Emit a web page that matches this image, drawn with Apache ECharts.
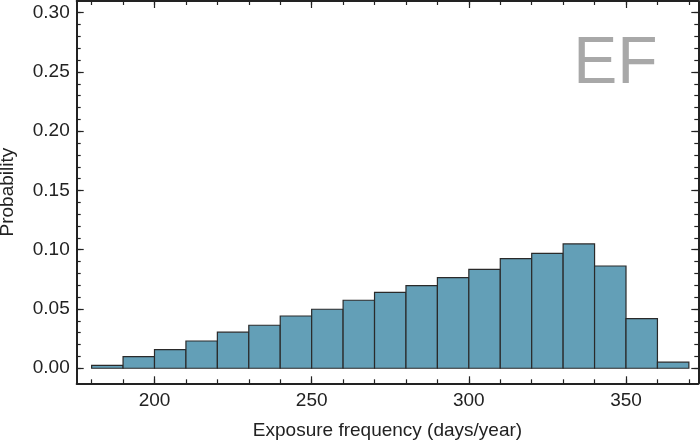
<!DOCTYPE html>
<html>
<head>
<meta charset="utf-8">
<script src="https://cdn.jsdelivr.net/npm/echarts@6/dist/echarts.min.js"></script>
<style>
html,body{margin:0;padding:0;background:#fff;}
#chart{width:700px;height:444px;}
</style>
</head>
<body>
<div id="chart"></div>
<script>
// Histogram bins (left edges, days/year) and bin width
const binStarts = [180,190,200,210,220,230,240,250,260,270,280,290,300,310,320,330,340,350,360];
const binWidth = 10;
// Probability per bin
const probabilities = [0.0025,0.0098,0.0157,0.0230,0.0304,0.0363,0.0441,0.0498,0.0574,0.0641,0.0697,0.0765,0.0835,0.0925,0.0970,0.1049,0.0863,0.0419,0.0051];
// Tick labels / tick positions
const xMajorTicks = [200,250,300,350];
const xMinorTicks = [180,190,200,210,220,230,240,250,260,270,280,290,300,310,320,330,340,350,360,370];
const yMajorTicks = [0,0.05,0.10,0.15,0.20,0.25,0.30];
const yMinorTicks = [0,0.01,0.02,0.03,0.04,0.05,0.06,0.07,0.08,0.09,0.10,0.11,0.12,0.13,0.14,0.15,0.16,0.17,0.18,0.19,0.20,0.21,0.22,0.23,0.24,0.25,0.26,0.27,0.28,0.29,0.30];
const xTitle = 'Exposure frequency (days/year)';
const yTitle = 'Probability';
const panelLabel = 'EF';

const FONT = "'Liberation Sans', Arial, Helvetica, sans-serif";
const DARK = '#222';
const XMIN = 175.25, XMAX = 373;
const YMIN = -0.0127, YMAX = 0.3099;

const histData = binStarts.map((s, i) => [s, s + binWidth, probabilities[i]]);

function xAx(pos, ticks, len, withLine, withLabel, withName) {
  return {
    type: 'value', position: pos, min: XMIN, max: XMAX,
    splitLine: {show: false},
    axisLine: {show: withLine, onZero: false, lineStyle: {color: DARK, width: 2}},
    axisTick: {show: true, inside: true, length: len, customValues: ticks, lineStyle: {color: DARK, width: 1.2}},
    axisLabel: {show: withLabel, customValues: xMajorTicks, fontSize: 19, color: DARK, fontFamily: FONT, margin: 8},
    name: withName ? xTitle : '', nameLocation: 'middle', nameGap: 38,
    nameTextStyle: {fontSize: 19, color: DARK, fontFamily: FONT}
  };
}
function yAx(pos, ticks, len, withLine, withLabel, withName) {
  return {
    type: 'value', position: pos, min: YMIN, max: YMAX,
    splitLine: {show: false},
    axisLine: {show: withLine, onZero: false, lineStyle: {color: DARK, width: 2}},
    axisTick: {show: true, inside: true, length: len, customValues: ticks, lineStyle: {color: DARK, width: 1.2}},
    axisLabel: {show: withLabel, customValues: yMajorTicks, fontSize: 19, color: DARK, fontFamily: FONT, margin: 7,
      formatter: v => v.toFixed(2)},
    name: withName ? yTitle : '', nameLocation: 'middle', nameGap: 59, nameRotate: 90,
    nameTextStyle: {fontSize: 19, color: DARK, fontFamily: FONT}
  };
}

const chart = echarts.init(document.getElementById('chart'), null, {renderer: 'canvas'});
chart.setOption({
  backgroundColor: '#fff',
  animation: false,
  grid: {left: 76.7, right: 1.7, top: 1, bottom: 60.7, containLabel: false, outerBoundsMode: 'none'},
  xAxis: [
    xAx('bottom', xMajorTicks, 7, true, true, true),
    xAx('bottom', xMinorTicks, 4, false, false, false),
    xAx('top', xMajorTicks, 7, true, false, false),
    xAx('top', xMinorTicks, 4, false, false, false)
  ],
  yAxis: [
    yAx('left', yMajorTicks, 7, true, true, true),
    yAx('left', yMinorTicks, 4, false, false, false),
    yAx('right', yMajorTicks, 7, true, false, false),
    yAx('right', yMinorTicks, 4, false, false, false)
  ],
  graphic: [{
    type: 'text',
    style: {x: 615.5, y: 65, text: panelLabel, fill: '#a8a8a8', font: '66px ' + FONT, textAlign: 'center', textVerticalAlign: 'middle'}
  }],
  series: [{
    type: 'custom',
    xAxisIndex: 0, yAxisIndex: 0,
    data: histData,
    renderItem: function (params, api) {
      const p0 = api.coord([api.value(0), api.value(2)]);
      const p1 = api.coord([api.value(1), 0]);
      return {
        type: 'rect',
        shape: {x: p0[0], y: p0[1], width: p1[0] - p0[0], height: p1[1] - p0[1]},
        style: {fill: '#639fb7', stroke: '#2a2a2a', lineWidth: 1.2}
      };
    }
  }]
});
</script>
</body>
</html>
